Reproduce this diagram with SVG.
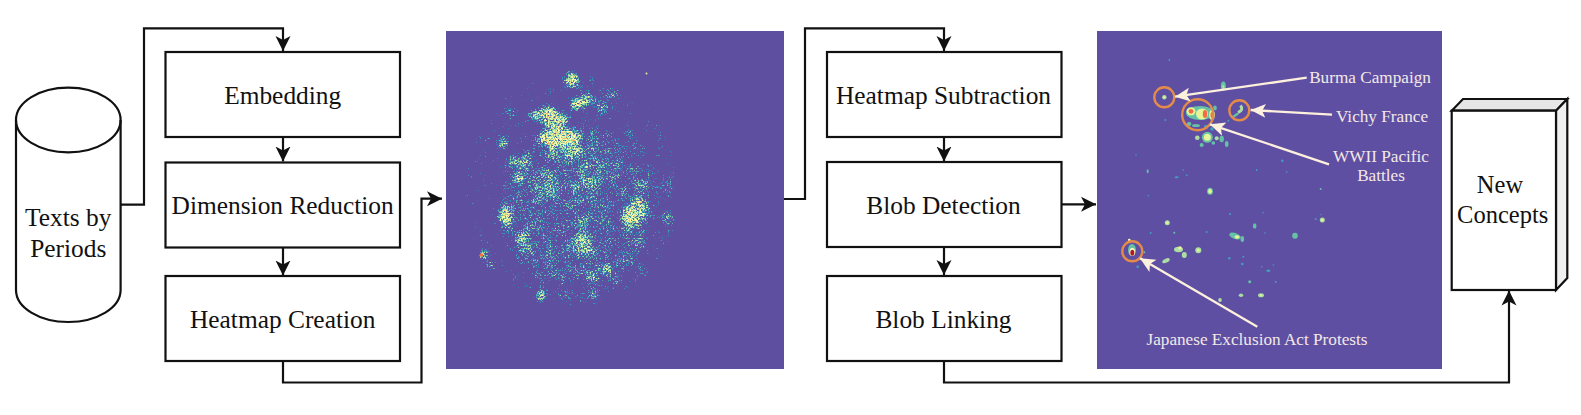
<svg xmlns="http://www.w3.org/2000/svg" width="1581" height="415" viewBox="0 0 1581 415">
<style>
text{font-family:"Liberation Serif","Times New Roman",serif;font-size:25.4px;fill:#111;text-anchor:middle}
.box{fill:#fff;stroke:#111;stroke-width:2.2}
.w{fill:none;stroke:#111;stroke-width:2.2}
.c{fill:none;stroke:#111;stroke-width:2.2;stroke-linejoin:miter}
.a{fill:none;stroke:#fdf0dc;stroke-width:2.3;marker-end:url(#cream)}
.ring{fill:none;stroke:#e58b49;stroke-width:2.4}
text.n{font-size:17.2px;fill:#f3e8e6}
text.nc{font-size:24.5px}
.t{fill:#3f9fbb}.g{fill:#66c2a5}.h{fill:#abdda4}.y{fill:#e6f598}.l{fill:#ffffbf}.o{fill:#f46d43}.r{fill:#b2182b}
</style>
<defs>
<marker id="head" markerUnits="userSpaceOnUse" markerWidth="16" markerHeight="16" refX="15" refY="8" orient="auto"><path d="M0 0.5L15 8L0 15.5L4 8Z" fill="#111"/></marker>
<marker id="cream" markerUnits="userSpaceOnUse" markerWidth="16" markerHeight="16" refX="15" refY="8" orient="auto"><path d="M0 1L15 8L0 15L3.5 8Z" fill="#fdf0dc"/></marker>
<filter id="speck" filterUnits="userSpaceOnUse" x="446" y="31" width="338" height="338" color-interpolation-filters="sRGB">
<feGaussianBlur in="SourceGraphic" stdDeviation="3" result="d0"/>
<feTurbulence type="fractalNoise" baseFrequency="0.09" numOctaves="2" seed="4"/>
<feColorMatrix type="matrix" values="1 0 0 0 0 1 0 0 0 0 1 0 0 0 0 0 0 0 0 1" result="n2"/>
<feComposite in="d0" in2="n2" operator="arithmetic" k1="0.7" k2="0.65" k3="0" k4="0" result="d"/>
<feTurbulence type="fractalNoise" baseFrequency="0.6" numOctaves="2" seed="11"/>
<feColorMatrix type="matrix" values="1 0 0 0 0 1 0 0 0 0 1 0 0 0 0 0 0 0 0 1" result="n"/>
<feComposite in="d" in2="n" operator="arithmetic" k1="1.6" k2="0" k3="0" k4="0"/>
<feColorMatrix type="matrix" values="1 0 0 0 0 1 0 0 0 0 1 0 0 0 0 0 0 0 0 1"/>
<feComponentTransfer>
<feFuncR type="table" tableValues=".369 .369 .369 .369 .369 .369 .369 .369 .369 .196 .3 .4 .67 .67 .902 .902 1 1 .996 .992"/>
<feFuncG type="table" tableValues=".31 .31 .31 .31 .31 .31 .31 .31 .31 .533 .65 .761 .867 .867 .961 .961 1 1 .878 .682"/>
<feFuncB type="table" tableValues=".635 .635 .635 .635 .635 .635 .635 .635 .635 .741 .69 .647 .643 .643 .596 .596 .749 .749 .545 .38"/>
</feComponentTransfer>
<feGaussianBlur stdDeviation="0.4"/>
</filter>
<filter id="soft" x="-5%" y="-5%" width="110%" height="110%"><feGaussianBlur stdDeviation="0.55"/></filter>
</defs>
<rect width="1581" height="415" fill="#fff"/>

<g id="connectors">
<path class="c" d="M121 204.7H144V28.3H283V51" marker-end="url(#head)"/>
<path class="c" d="M283 137V161.5" marker-end="url(#head)"/>
<path class="c" d="M283 247.5V275.5" marker-end="url(#head)"/>
<path class="c" d="M283 361V382.5H421.5V198.7H442" marker-end="url(#head)"/>
<path class="c" d="M784 199H805V28.3H944V51" marker-end="url(#head)"/>
<path class="c" d="M944 137V161.5" marker-end="url(#head)"/>
<path class="c" d="M944 247V275" marker-end="url(#head)"/>
<path class="c" d="M1062 204.3H1096" marker-end="url(#head)"/>
<path class="c" d="M944 361V382.5H1509V290.5" marker-end="url(#head)"/>
</g>

<g id="texts-by-periods">
<path class="box" d="M16 120A52.3 32.3 0 0 1 120.6 120V290A52.3 32 0 0 1 16 290Z"/>
<path class="w" d="M16 120A52.3 32.3 0 0 0 120.6 120"/>
<text x="68.3" y="226">Texts by</text><text x="68.3" y="256.7">Periods</text>
</g>
<g id="embedding"><rect class="box" x="165.5" y="52" width="234.5" height="85"/><text x="282.7" y="103.5">Embedding</text></g>
<g id="dimension-reduction"><rect class="box" x="165.5" y="162.5" width="234.5" height="85"/><text x="282.7" y="214.3">Dimension Reduction</text></g>
<g id="heatmap-creation"><rect class="box" x="165.5" y="276" width="234.5" height="85"/><text x="282.7" y="327.7">Heatmap Creation</text></g>

<g id="heatmap-1">
<rect x="446" y="31" width="338" height="338" fill="#5e4fa2"/>
<g filter="url(#speck)">
<rect x="446" y="31" width="338" height="338" fill="#000"/>
<g fill="#fff">
<ellipse cx="572" cy="190" rx="112" ry="122" opacity=".36"/>
<ellipse cx="585" cy="215" rx="88" ry="92" opacity=".06"/>
<ellipse cx="578" cy="205" rx="72" ry="80" opacity=".14"/>
<ellipse cx="572" cy="80" rx="7" ry="9" opacity=".75"/>
<ellipse cx="582" cy="102" rx="11" ry="5" transform="rotate(-25 582 102)"/>
<ellipse cx="592" cy="82" rx="4" ry="3" opacity=".6"/>
<ellipse cx="543" cy="113" rx="14" ry="4" opacity=".85" transform="rotate(-20 543 113)"/>
<ellipse cx="555" cy="120" rx="14" ry="8" opacity=".7"/>
<ellipse cx="560" cy="137" rx="20" ry="9" opacity=".9"/>
<ellipse cx="567" cy="150" rx="18" ry="12" opacity=".4"/>
<ellipse cx="602" cy="107" rx="7" ry="7" opacity=".45"/>
<ellipse cx="612" cy="95" rx="6" ry="5" opacity=".3"/>
<ellipse cx="513" cy="112" rx="4" ry="6" opacity=".5"/>
<ellipse cx="502" cy="142" rx="4" ry="5" opacity=".9"/>
<ellipse cx="517" cy="162" rx="10" ry="4" opacity=".8"/>
<ellipse cx="520" cy="177" rx="5" ry="4" opacity=".85"/>
<ellipse cx="547" cy="188" rx="16" ry="15" opacity=".25"/>
<ellipse cx="580" cy="192" rx="10" ry="10" opacity=".3"/>
<ellipse cx="595" cy="173" rx="16" ry="13" opacity=".25"/>
<ellipse cx="635" cy="213" rx="10" ry="15" opacity=".7" transform="rotate(25 635 213)"/>
<ellipse cx="663" cy="185" rx="9" ry="3" opacity=".5" transform="rotate(-40 663 185)"/>
<ellipse cx="642" cy="185" rx="3" ry="4" opacity=".55"/>
<ellipse cx="505" cy="213" rx="5" ry="7" opacity=".9"/>
<ellipse cx="508" cy="221" rx="4" ry="6" opacity=".8"/>
<ellipse cx="520" cy="238" rx="7" ry="4" opacity=".85"/>
<ellipse cx="525" cy="249" rx="7" ry="3" opacity=".85"/>
<ellipse cx="482" cy="255" rx="4" ry="4"/>
<ellipse cx="488" cy="267" rx="4" ry="3" opacity=".95"/>
<ellipse cx="542" cy="295" rx="5" ry="4" opacity=".95"/>
<ellipse cx="582" cy="245" rx="14" ry="12" opacity=".35"/>
<ellipse cx="583" cy="225" rx="9" ry="5" opacity=".35"/>
<ellipse cx="606" cy="270" rx="4" ry="5" opacity=".98"/>
<ellipse cx="590" cy="277" rx="4" ry="5" opacity=".5"/>
<ellipse cx="593" cy="295" rx="4" ry="6" opacity=".3"/>
<ellipse cx="615" cy="283" rx="5" ry="7" opacity=".2"/>
<ellipse cx="630" cy="137" rx="5" ry="8" opacity=".3"/>
<ellipse cx="652" cy="133" rx="2.5" ry="2.5" opacity=".4"/>
<ellipse cx="667" cy="218" rx="9" ry="4" opacity=".4" transform="rotate(25 667 218)"/>
<ellipse cx="558" cy="275" rx="6" ry="5" opacity=".2"/>
<ellipse cx="568" cy="300" rx="4" ry="3" opacity=".3"/>
<ellipse cx="502" cy="228" rx="2.5" ry="2.5" opacity=".8"/>
<ellipse cx="630" cy="263" rx="12" ry="9" opacity=".1"/>
<ellipse cx="643" cy="240" rx="6" ry="7" opacity=".2"/>
</g>
</g>
<circle cx="646.500" cy="73.500" r="1" class="y"/>
<ellipse cx="481.500" cy="255" rx="1.800" ry="1.800" class="o"/>
</g>

<g id="heatmap-subtraction"><rect class="box" x="827" y="52" width="234.500" height="85"/><text x="943.500" y="103.700">Heatmap Subtraction</text></g>
<g id="blob-detection"><rect class="box" x="827" y="162" width="234.500" height="85"/><text x="943.500" y="214.300">Blob Detection</text></g>
<g id="blob-linking"><rect class="box" x="827" y="276" width="234.500" height="85"/><text x="943.500" y="327.700">Blob Linking</text></g>

<g id="heatmap-2">
<rect x="1097" y="31" width="345" height="338" fill="#5e4fa2"/>
<g filter="url(#soft)">
<ellipse class="g" cx="1223.300" cy="86" rx="2.500" ry="4.500"/><ellipse class="h" cx="1223.300" cy="87" rx="1.200" ry="2.200"/>
<circle class="t" cx="1169.300" cy="60" r=".9"/>
<circle class="h" cx="1164.300" cy="97.300" r="2.200"/><circle class="y" cx="1164.300" cy="97.300" r="1"/>
<ellipse class="g" cx="1200" cy="113" rx="14" ry="7"/>
<ellipse class="y" cx="1191" cy="111.300" rx="4.500" ry="4"/><circle class="o" cx="1191" cy="111.300" r="2.400"/>
<ellipse class="y" cx="1202" cy="114" rx="6" ry="5.500"/><ellipse class="o" cx="1205" cy="114" rx="2.200" ry="4"/>
<ellipse class="y" cx="1212" cy="115" rx="2.800" ry="5"/><ellipse class="o" cx="1212" cy="115" rx="1.500" ry="3"/>
<ellipse class="g" cx="1189" cy="124" rx="2.400" ry="2"/><ellipse class="g" cx="1196" cy="125.500" rx="4" ry="1.600"/>
<ellipse class="g" cx="1215" cy="108" rx="1.800" ry="2.400"/>
<circle class="g" cx="1207.300" cy="137.300" r="5.500"/><circle class="y" cx="1207.300" cy="137.300" r="3.500"/>
<circle class="h" cx="1197.300" cy="137.700" r="2.300"/><circle class="g" cx="1201.700" cy="145" r="2"/><circle class="h" cx="1216.700" cy="138.300" r="2"/>
<ellipse class="g" cx="1221.700" cy="139" rx="2.200" ry="3.200"/><ellipse class="g" cx="1226.700" cy="144" rx="1.800" ry="3"/><circle class="g" cx="1213.300" cy="143" r="1.800"/>
<circle class="t" cx="1206" cy="127" r="2.200"/><circle class="t" cx="1212" cy="129" r="1.800"/>
<path d="M1240.500 105.500Q1244 110 1238 112.500" fill="none" stroke="#abdda4" stroke-width="3"/><path d="M1238 113.500L1233 117" fill="none" stroke="#66c2a5" stroke-width="2.200"/>
<circle class="t" cx="1165.300" cy="120" r="1"/><circle class="t" cx="1228.300" cy="120.700" r="1"/><circle class="t" cx="1136" cy="155" r=".8"/>
<ellipse class="g" cx="1147.700" cy="171.300" rx="1" ry="2"/><ellipse class="t" cx="1176.700" cy="177.300" rx="2" ry="1"/><circle class="t" cx="1186.700" cy="175.300" r=".9"/><circle class="t" cx="1183.300" cy="170" r=".8"/>
<ellipse class="g" cx="1210" cy="191.300" rx="3" ry="3.500"/><ellipse class="y" cx="1210" cy="191.300" rx="1.800" ry="2.500"/>
<circle class="t" cx="1148.300" cy="195.700" r=".8"/><circle class="g" cx="1320.700" cy="189" r="1"/><circle class="t" cx="1282.300" cy="160.700" r="1.200"/><circle class="t" cx="1256.700" cy="170" r="1"/><circle class="t" cx="1286.700" cy="172" r=".8"/>
<circle class="h" cx="1167.300" cy="222.700" r="2.500"/><circle class="y" cx="1167.300" cy="222.700" r="1.300"/>
<circle class="t" cx="1150.700" cy="233" r="1"/><circle class="g" cx="1174.300" cy="232.700" r="1"/><circle class="t" cx="1206.700" cy="232" r="1"/><circle class="t" cx="1230" cy="214" r="1"/><circle class="t" cx="1263" cy="212.700" r=".8"/>
<ellipse class="g" cx="1254.700" cy="226" rx="1.800" ry="2.800"/>
<ellipse class="g" cx="1235" cy="236" rx="6" ry="3" transform="rotate(20 1235 236)"/><ellipse class="y" cx="1237" cy="237" rx="2.500" ry="1.800"/>
<ellipse class="g" cx="1242.300" cy="239" rx="1.800" ry="3"/><circle class="t" cx="1265" cy="233" r=".8"/>
<ellipse class="g" cx="1295" cy="235.700" rx="2.800" ry="3"/><circle class="t" cx="1315.700" cy="219" r="1"/>
<circle class="h" cx="1322.300" cy="220" r="2.500"/><circle class="y" cx="1322.300" cy="220" r="1.200"/><circle class="t" cx="1321" cy="214.500" r=".7"/>
<ellipse class="h" cx="1178.500" cy="249.500" rx="4.500" ry="2.800"/><circle class="y" cx="1180" cy="248" r="1.800"/>
<ellipse class="h" cx="1184.300" cy="255" rx="2.500" ry="3"/><circle class="h" cx="1198.300" cy="250.300" r="3"/><circle class="y" cx="1198.300" cy="250.300" r="1.300"/>
<ellipse class="h" cx="1166" cy="260.700" rx="4" ry="2" transform="rotate(-25 1166 260.700)"/>
<ellipse class="g" cx="1132" cy="250" rx="4" ry="6"/><ellipse class="l" cx="1132.300" cy="252" rx="2.800" ry="4"/><ellipse class="r" cx="1132.300" cy="252.700" rx="2" ry="3"/>
<circle class="l" cx="1129.300" cy="240" r="1.300"/><circle class="t" cx="1137.700" cy="266.700" r="1.300"/><circle class="g" cx="1144.300" cy="252.300" r="1"/>
<circle class="t" cx="1229.300" cy="258.300" r="1.200"/><circle class="t" cx="1243.300" cy="256.700" r="1"/><circle class="t" cx="1242.300" cy="264" r="1.300"/><circle class="t" cx="1261.700" cy="266.700" r=".8"/>
<ellipse class="t" cx="1268.300" cy="270.700" rx="2" ry="1.300"/><circle class="t" cx="1273.300" cy="265" r=".8"/><circle class="g" cx="1249.700" cy="281.700" r="1.500"/><circle class="t" cx="1275.700" cy="282" r="1"/>
<ellipse class="h" cx="1241" cy="295.300" rx="2.200" ry="1.800"/><ellipse class="h" cx="1261" cy="295.300" rx="3" ry="2"/><circle class="y" cx="1261" cy="295.300" r="1"/><ellipse class="h" cx="1220" cy="300" rx="1.800" ry="2"/>
</g>
<circle class="ring" cx="1164.300" cy="97.300" r="10"/>
<circle class="ring" cx="1197.700" cy="114.700" r="15.500"/>
<circle class="ring" cx="1239.300" cy="110.300" r="10"/>
<circle class="ring" cx="1132.300" cy="251.300" r="10"/>
<path class="a" d="M1306.700 77.700L1175 96.700"/>
<path class="a" d="M1332 114.700L1250.700 110"/>
<path class="a" d="M1329 164.300L1210 124.300"/>
<path class="a" d="M1257.300 326.700L1140 258.300"/>
<text class="n" x="1370" y="83">Burma Campaign</text>
<text class="n" x="1382" y="121.700">Vichy France</text>
<text class="n" x="1381" y="161.700">WWII Pacific</text>
<text class="n" x="1381" y="181">Battles</text>
<text class="n" x="1257" y="345">Japanese Exclusion Act Protests</text>
</g>

<g id="new-concepts">
<path d="M1451.700 110.700L1463 99H1567.300L1556 110.700Z" fill="#e6e6e6" stroke="#111" stroke-width="2.200"/>
<path d="M1556 110.700L1567.300 99V278L1556 290Z" fill="#f0f0f0" stroke="#111" stroke-width="2.200"/>
<rect class="box" x="1451.700" y="110.700" width="104.300" height="179.300"/>
<text class="nc" x="1500" y="192.700">New</text><text class="nc" x="1502.700" y="222.700">Concepts</text>
</g>
</svg>
